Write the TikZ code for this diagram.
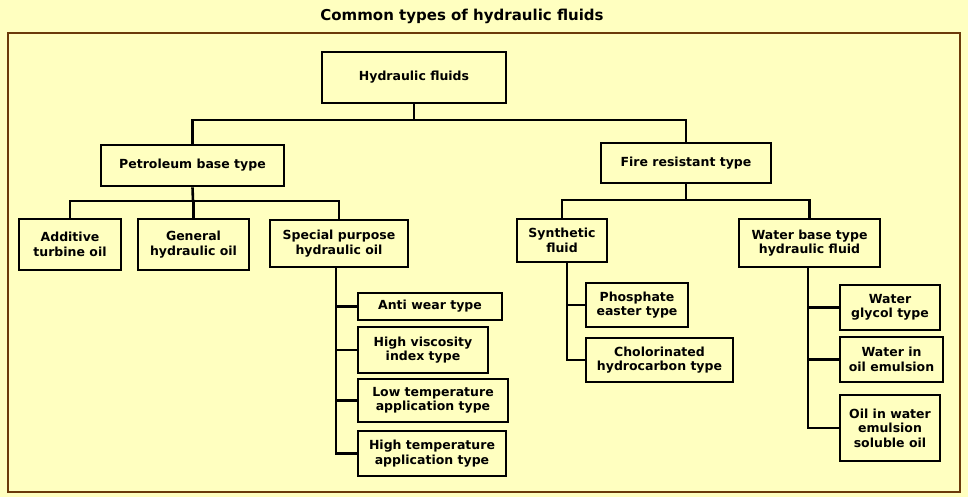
\documentclass[tikz,border=0pt]{standalone}
\usepackage{fontspec}
\setmainfont{DejaVu Sans}
\definecolor{bg}{HTML}{FFFFC0}
\definecolor{frame}{HTML}{6B3A0A}
\begin{document}
\begin{tikzpicture}[x=1pt,y=-1pt,
  bx/.style={draw=black,line width=2.6pt,fill=bg,inner sep=0pt,align=center,font=\fontsize{12.5}{14.5}\selectfont\bfseries},
  ln/.style={draw=black,line width=2.6pt}]
\fill[bg] (0,0) rectangle (968,497);
\useasboundingbox (0,0) rectangle (968,497);
\draw[frame,line width=2.8pt] (8,33) rectangle (960,492);
\node[font=\fontsize{15}{17}\selectfont\bfseries] (title) at (462,16) {Common types of hydraulic fluids};
\newcommand{\bx}[6]{\node[bx,minimum width=#4-#2,minimum height=#5-#3] (#1) at ({(#2+#4)/2},{(#3+#5)/2}) {#6};}
\bx{hf}{322}{52}{506}{103}{Hydraulic fluids}
\bx{pb}{101}{145}{284}{186}{Petroleum base type}
\bx{fr}{601}{143}{771}{183}{Fire resistant type}
\bx{ad}{19}{219}{121}{270}{Additive\\turbine oil}
\bx{ge}{138}{219}{249}{270}{General\\hydraulic oil}
\bx{sp}{270}{220}{408}{267}{Special purpose\\hydraulic oil}
\bx{aw}{358}{293}{502}{320}{Anti wear type}
\bx{hv}{358}{327}{488}{373}{High viscosity\\index type}
\bx{lt}{358}{379}{508}{422}{Low temperature\\application type}
\bx{ht}{358}{431}{506}{476}{High temperature\\application type}
\bx{sy}{517}{219}{607}{262}{Synthetic\\fluid}
\bx{wb}{739}{219}{880}{267}{Water base type\\hydraulic fluid}
\bx{ph}{586}{283}{688}{327}{Phosphate\\easter type}
\bx{ch}{586}{338}{733}{382}{Cholorinated\\hydrocarbon type}
\bx{wg}{840}{285}{940}{330}{Water\\glycol type}
\bx{wo}{840}{337}{943}{382}{Water in\\oil emulsion}
\bx{ow}{840}{395}{940}{461}{Oil in water\\emulsion\\soluble oil}
\coordinate (j1) at (414,120);
\draw[ln] (hf.south) -- (j1);
\draw[ln] (pb.north) |- (j1) -| (fr.north);
\coordinate (j2) at (193,201);
\draw[ln] (pb.south) -- (j2);
\draw[ln] (ad.north) |- (j2) -| (sp.north);
\draw[ln] (ge.north) -- (ge.north |- j2);
\coordinate (j3) at (686,200);
\draw[ln] (fr.south) -- (j3);
\draw[ln] (sy.north) |- (j3) -| (wb.north);
\coordinate (s1) at (336,267);
\draw[ln] (s1) |- (ht.west);
\foreach \n in {aw,hv,lt} \draw[ln] (\n.west) -- (\n.west -| s1);
\coordinate (s2) at (567,262);
\draw[ln] (s2) |- (ch.west);
\draw[ln] (ph.west) -- (ph.west -| s2);
\coordinate (s3) at (808,267);
\draw[ln] (s3) |- (ow.west);
\foreach \n in {wg,wo} \draw[ln] (\n.west) -- (\n.west -| s3);
\end{tikzpicture}
\end{document}
